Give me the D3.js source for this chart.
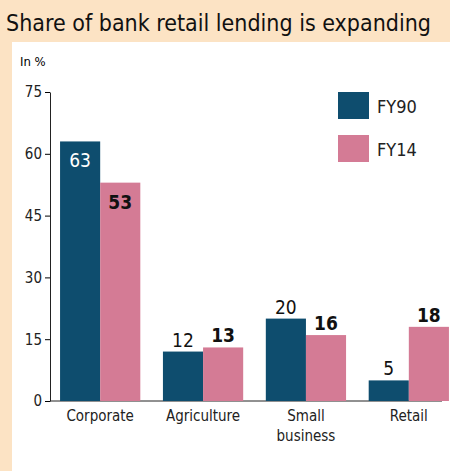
<!DOCTYPE html><html><head><meta charset="utf-8"><script src="https://d3js.org/d3.v7.min.js"></script>
<style>body{margin:0;background:#fff}</style></head><body><script>
const categories=["Corporate","Agriculture","Small business","Retail"];
const fy90=[63,12,20,5];
const fy14=[53,13,16,18];
const ticks=[0,15,30,45,60,75];
const W=450,H=471;
const svg=d3.select("body").append("svg").attr("width",W).attr("height",H);
const F="DejaVu Sans Condensed";
svg.append("rect").attr("width",W).attr("height",42).attr("fill","#fce3c4");
svg.append("rect").attr("y",42).attr("width",12).attr("height",H-42).attr("fill","#fce3c4");
svg.append("text").attr("x",6).attr("y",31).attr("font-family",F).attr("font-size",23).attr("fill","#111").text("Share of bank retail lending is expanding");
svg.append("text").attr("x",20).attr("y",66).attr("font-family",F).attr("font-size",13).text("In %");
const y=d3.scaleLinear().domain([0,75]).range([401,92]);
const x=d3.scaleBand().domain(categories).range([58,451]).paddingInner(0.22).paddingOuter(0.02);
const g=svg.append("g");
const ax=g.append("g").attr("transform","translate(50,0)").call(d3.axisLeft(y).tickValues(ticks).tickSize(5).tickSizeOuter(0));
ax.select(".domain").attr("stroke","#222");
ax.selectAll("text").attr("font-family",F).attr("font-size",15).attr("fill","#222");
g.append("line").attr("x1",50).attr("x2",442).attr("y1",401).attr("y2",401).attr("stroke","#222");
const bw=x.bandwidth()/2;
const series=[{v:fy90,c:"#0e4d6e",o:0},{v:fy14,c:"#d47b95",o:1}];
series.forEach(s=>{
 g.selectAll(null).data(categories).enter().append("rect")
  .attr("x",d=>x(d)+s.o*bw).attr("width",bw).attr("y",(d,i)=>y(s.v[i])).attr("height",(d,i)=>401-y(s.v[i])).attr("fill",s.c);
 g.selectAll(null).data(categories).enter().append("text")
  .attr("x",d=>x(d)+s.o*bw+bw/2).attr("text-anchor","middle")
  .attr("y",(d,i)=>i===0?y(s.v[i])+26:y(s.v[i])-5)
  .attr("font-family",F).attr("font-size",19).attr("font-weight",s.o?"bold":"normal")
  .attr("fill",(d,i)=>i===0&&s.o===0?"#fff":"#111").text((d,i)=>s.v[i]);
});
categories.forEach(c=>{
 const t=g.append("text").attr("x",x(c)+bw).attr("y",421).attr("text-anchor","middle").attr("font-family",F).attr("font-size",15).attr("fill","#222");
 c.split(" ").forEach((w,i)=>t.append("tspan").attr("x",x(c)+bw).attr("dy",i?20:0).text(w));
});
[["FY90","#0e4d6e",92],["FY14","#d47b95",135]].forEach(l=>{
 svg.append("rect").attr("x",338).attr("y",l[2]).attr("width",31).attr("height",27).attr("fill",l[1]);
 svg.append("text").attr("x",377).attr("y",l[2]+21).attr("font-family",F).attr("font-size",18).attr("fill","#222").text(l[0]);
});
</script></body></html>
